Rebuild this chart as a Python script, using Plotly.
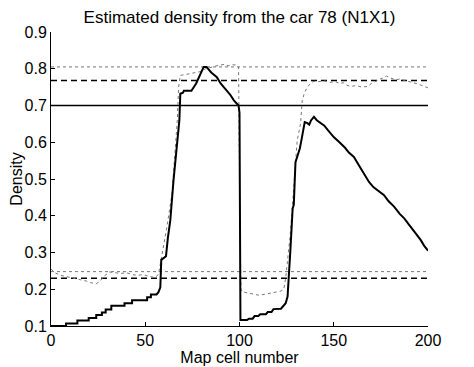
import plotly.graph_objects as go

# Estimated density (solid)
est_x = [0, 8, 8, 14, 14, 20, 20, 24, 24, 27, 27, 29, 29, 32, 32, 39, 39, 43, 43, 51, 51, 53, 53, 56,
         57, 58, 58.5, 61, 62, 63.3, 65, 66.9, 68.1, 68.6, 70, 70.5, 74.5, 77, 79, 81, 82.5, 85, 88, 90,
         93, 95, 97, 99.5, 100, 100.5, 104, 105, 107, 108, 110, 111, 114, 115, 117, 118, 122, 123, 124.5,
         125.5, 126.2, 127, 128.2, 128.8, 129.7, 131, 132, 133, 133.8, 134.6, 136, 137, 138, 139.5, 141,
         143, 145, 147, 150, 153, 156, 158, 160.7, 163, 166, 168.7, 171, 173, 176.7, 179, 182, 185, 187.4,
         190, 193, 196, 198, 200]
est_y = [0.100, 0.100, 0.107, 0.107, 0.115, 0.115, 0.122, 0.122, 0.130, 0.130, 0.137, 0.137, 0.145, 0.145,
         0.155, 0.155, 0.162, 0.162, 0.170, 0.170, 0.178, 0.178, 0.186, 0.186, 0.192, 0.205, 0.280, 0.290,
         0.340, 0.388, 0.497, 0.605, 0.660, 0.732, 0.735, 0.740, 0.740, 0.760, 0.785, 0.805, 0.805, 0.790,
         0.777, 0.760, 0.742, 0.730, 0.714, 0.700, 0.680, 0.116, 0.116, 0.120, 0.120, 0.127, 0.127, 0.132,
         0.132, 0.138, 0.138, 0.146, 0.147, 0.152, 0.162, 0.180, 0.230, 0.307, 0.420, 0.430, 0.546, 0.570,
         0.583, 0.610, 0.633, 0.655, 0.652, 0.648, 0.660, 0.669, 0.660, 0.652, 0.645, 0.632, 0.614, 0.600,
         0.585, 0.572, 0.560, 0.540, 0.515, 0.492, 0.478, 0.470, 0.456, 0.440, 0.425, 0.405, 0.393, 0.375,
         0.355, 0.335, 0.318, 0.305]

# Reference density (dotted)
ref_x = [0, 2, 5, 8, 10, 13, 15, 17, 19, 21, 24, 26, 28, 31, 34, 37, 40, 43, 46, 49, 52, 55, 57, 58.5,
         59.7, 61.5, 64.2, 66, 67, 67.7, 68.6, 72, 76, 79, 82, 85, 88, 90, 92, 94, 96, 98.5, 99.5, 100.2,
         100.8, 101.5, 104, 107, 110, 113, 116, 119, 122, 123.5, 124.5, 126, 127, 128.8, 130.6, 132.4,
         133.3, 134.5, 136, 138, 139.5, 142, 145, 148, 151, 153, 155, 157, 159, 162, 165, 168, 170, 172,
         174, 176.8, 178, 180, 183, 185, 188, 190, 193, 195, 198, 200]
ref_y = [0.255, 0.245, 0.238, 0.235, 0.232, 0.230, 0.228, 0.225, 0.222, 0.218, 0.215, 0.222, 0.235, 0.247,
         0.245, 0.243, 0.245, 0.240, 0.238, 0.240, 0.235, 0.232, 0.240, 0.280, 0.315, 0.370, 0.460, 0.578,
         0.660, 0.750, 0.782, 0.785, 0.788, 0.792, 0.800, 0.805, 0.808, 0.810, 0.812, 0.808, 0.811, 0.810,
         0.805, 0.400, 0.200, 0.193, 0.190, 0.187, 0.184, 0.186, 0.190, 0.192, 0.195, 0.200, 0.230, 0.300,
         0.353, 0.479, 0.605, 0.651, 0.714, 0.735, 0.750, 0.762, 0.766, 0.765, 0.767, 0.763, 0.765, 0.760,
         0.762, 0.755, 0.752, 0.754, 0.750, 0.752, 0.760, 0.765, 0.770, 0.775, 0.780, 0.775, 0.770, 0.772,
         0.768, 0.765, 0.762, 0.758, 0.752, 0.748]

# Threshold levels
solid_levels = [0.70]
dashed_levels = [0.768, 0.23]
dotted_levels = [0.805, 0.248]
x_span = [0, 200]

x_ticks = [0, 50, 100, 150, 200]
y_ticks = [0.1, 0.2, 0.3, 0.4, 0.5, 0.6, 0.7, 0.8, 0.9]

fig = go.Figure()
for v in dotted_levels:
    fig.add_trace(go.Scatter(x=x_span, y=[v, v], mode="lines",
                             line=dict(color="#777777", width=1, dash="dot"), showlegend=False))
for v in dashed_levels:
    fig.add_trace(go.Scatter(x=x_span, y=[v, v], mode="lines",
                             line=dict(color="black", width=1.5, dash="6px,4px"), showlegend=False))
for v in solid_levels:
    fig.add_trace(go.Scatter(x=x_span, y=[v, v], mode="lines",
                             line=dict(color="black", width=1.5), showlegend=False))
fig.add_trace(go.Scatter(x=ref_x, y=ref_y, mode="lines",
                         line=dict(color="#777777", width=1, dash="dot"), showlegend=False))
fig.add_trace(go.Scatter(x=est_x, y=est_y, mode="lines",
                         line=dict(color="black", width=2), showlegend=False))

# page body has an 8px default margin: size the figure to fit the 474x367 window
W, H = 466, 359
font = "Liberation Sans, Arial, sans-serif"
fig.update_layout(
    width=W, height=H,
    margin=dict(l=43, r=46, t=24, b=41),
    paper_bgcolor="white", plot_bgcolor="white",
    font=dict(family=font, size=15, color="black"),
    title=dict(text="Estimated density from the car 78 (N1X1)", x=(239.5 - 8) / W, xanchor="center",
               y=1 - 9 / H, yanchor="middle", font=dict(size=17, family=font)),
    xaxis=dict(range=[0, 200], tickvals=x_ticks, ticks="inside", ticklen=4, tickcolor="black",
               showline=True, linecolor="black", linewidth=1, showgrid=False, zeroline=False,
               automargin=False,
               title=dict(text="Map cell number", standoff=1, font=dict(size=16)), tickfont=dict(size=16)),
    yaxis=dict(range=[0.1, 0.9], tickvals=y_ticks, ticktext=[f"{t:.1f}" for t in y_ticks],
               ticks="inside", ticklen=4, tickcolor="black",
               showline=True, linecolor="black", linewidth=1, showgrid=False, zeroline=False,
               automargin=False,
               title=dict(text="Density", standoff=2, font=dict(size=16)), tickfont=dict(size=16)),
)
fig.write_html("out.html")
